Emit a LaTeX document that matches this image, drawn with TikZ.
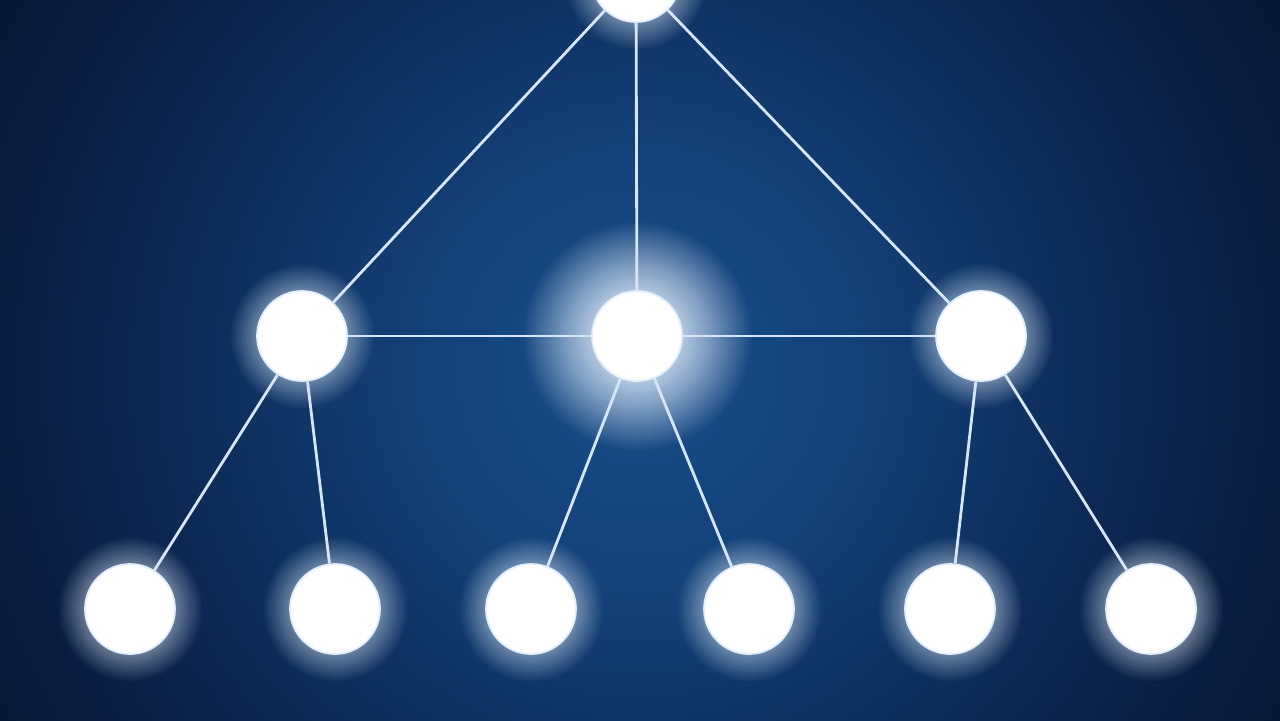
\documentclass[tikz,border=0pt]{standalone}
\usetikzlibrary{fadings}
\usetikzlibrary{positioning}

\definecolor{bgcenter}{RGB}{24,76,136}
\definecolor{bginner}{RGB}{20,66,122}
\definecolor{bgmid}{RGB}{14,50,98}
\definecolor{bgouter}{RGB}{12,38,80}
\definecolor{bgedge}{RGB}{10,28,62}
\definecolor{bgcorner}{RGB}{8,22,50}
\definecolor{linkcol}{RGB}{214,230,246}
\definecolor{glowcol}{RGB}{225,238,252}

\pgfdeclareradialshading{backshade}{\pgfpoint{0bp}{0bp}}{%
  color(0bp)=(bgcenter); color(8bp)=(bginner); color(15bp)=(bgmid); color(20bp)=(bgouter); color(25bp)=(bgedge); color(30bp)=(bgcorner); color(72bp)=(bgcorner)}
\pgfdeclareradialshading{glowshade}{\pgfpoint{0bp}{0bp}}{%
  color(0bp)=(white); color(15bp)=(white); color(25bp)=(black); color(50bp)=(black)}
\pgfdeclarefading{glowfade}{\pgfuseshading{glowshade}}
\pgfdeclareradialshading{bigglowshade}{\pgfpoint{0bp}{0bp}}{%
  color(0bp)=(white); color(10bp)=(white); color(15bp)=(gray!60); color(25bp)=(black); color(50bp)=(black)}
\pgfdeclarefading{bigglowfade}{\pgfuseshading{bigglowshade}}

\tikzset{
  ball/.style={circle, fill=white, draw=glowcol, line width=1pt, minimum size=1.8cm, inner sep=0pt},
  link/.style={draw=linkcol, line width=1.6pt},
  halo/.style={fill=glowcol, fill opacity=0.45, path fading=glowfade}
}

\begin{document}
\begin{tikzpicture}[x=0.02cm, y=-0.02cm]
		\useasboundingbox (0, 0) rectangle (1280, 720);
		\clip (0, 0) rectangle (1280, 720);
		\shade[shading=backshade] (0, -270) rectangle (1280, 1010);

		% halos
		\fill[halo] (636, -23) circle (1.45cm);
		\foreach \hx/\hy in {302/336, 981/336, 130/609, 335/609, 531/609, 749/609, 950/609, 1151/609}
			\fill[halo] (\hx, \hy) circle (1.45cm);
		\fill[halo, fill opacity=0.75, path fading=bigglowfade] (637, 336) circle (2.3cm);

		% nodes
		\node[ball] (root) at (636, -23) {};
		\node[ball] (midleft) at (302, 336) {};
		\node[ball] (midcenter) at (637, 336) {};
		\node[ball] (midright) at (981, 336) {};
		\node[ball] (leafa) at (130, 609) {};
		\node[ball] (leafb) at (335, 609) {};
		\node[ball] (leafc) at (531, 609) {};
		\node[ball] (leafd) at (749, 609) {};
		\node[ball] (leafe) at (950, 609) {};
		\node[ball] (leaff) at (1151, 609) {};

		% links
		\draw[link] (root) -- (midleft);
		\draw[link] (root) -- (midcenter);
		\draw[link] (root) -- (midright);
		\draw[link] (midleft) -- (midcenter);
		\draw[link] (midcenter) -- (midright);
		\draw[link] (midleft) -- (leafa);
		\draw[link] (midleft) -- (leafb);
		\draw[link] (midcenter) -- (leafc);
		\draw[link] (midcenter) -- (leafd);
		\draw[link] (midright) -- (leafe);
		\draw[link] (midright) -- (leaff);
	\end{tikzpicture}
\end{document}
